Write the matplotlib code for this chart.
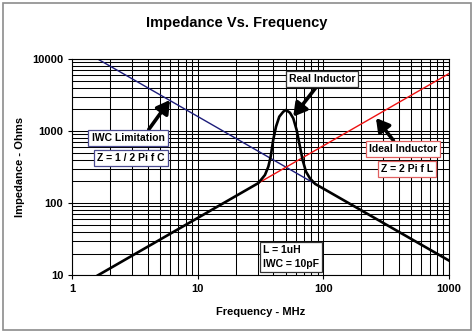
import matplotlib
matplotlib.use('Agg')
import matplotlib.pyplot as plt
from matplotlib.patches import Rectangle
from matplotlib.ticker import LogLocator, NullFormatter

plt.rcParams['font.family'] = ['Liberation Sans', 'DejaVu Sans']
plt.rcParams['font.weight'] = 'bold'

# values (frequency in MHz, impedance in ohms)
freq_real = [1.6, 30.3, 34.2, 36.4, 38.0, 39.8, 41.9, 44.5, 47.9, 50.3, 54.1,
             57.5, 61.2, 65.0, 68.3, 72.6, 78.1, 86.0, 1000]
z_real = [10, 190, 246, 321, 442, 753, 1151, 1585, 1858, 1962, 1799,
          1506, 1035, 608, 397, 274, 221, 185, 16]
freq_cap = [1.6, 86.0]
z_cap = [9950, 185]
freq_ind = [30.3, 1000]
z_ind = [190, 6280]

x_ticks = [1, 10, 100, 1000]
y_ticks = [10, 100, 1000, 10000]

W, H = 474, 333
fig = plt.figure(figsize=(W / 100, H / 100), dpi=100)
fig.patches.append(Rectangle((3 / W, 3 / H), 468 / W, 327 / H, transform=fig.transFigure,
                             fill=False, ec='#8c8c8c', lw=1.2))

ax = fig.add_axes([72.3 / W, 1 - 275.3 / H, 376.7 / W, 216.3 / H])
ax.set_xscale('log')
ax.set_yscale('log')
ax.set_xlim(1, 1000)
ax.set_ylim(10, 10000)
ax.set_axisbelow(True)

ax.plot(freq_cap, z_cap, color='#1c1c7a', lw=1.0)
ax.plot(freq_ind, z_ind, color='#ee1111', lw=1.0)
ax.plot(freq_real, z_real, color='black', lw=1.9)

ax.set_xticks(x_ticks)
ax.set_xticklabels([str(t) for t in x_ticks])
ax.set_yticks(y_ticks)
ax.set_yticklabels([str(t) for t in y_ticks])
ax.xaxis.set_minor_locator(LogLocator(base=10, subs=range(2, 10)))
ax.yaxis.set_minor_locator(LogLocator(base=10, subs=range(2, 10)))
ax.xaxis.set_minor_formatter(NullFormatter())
ax.yaxis.set_minor_formatter(NullFormatter())
ax.grid(True, which='both', color='black', lw=0.75)
ax.tick_params(labelsize=8, length=3, width=0.8, direction='out')
ax.tick_params(which='minor', length=0)
for lab in ax.get_xticklabels() + ax.get_yticklabels():
    lab.set_fontweight('bold')
for s in ax.spines.values():
    s.set_linewidth(0.8)

fig.text(237 / W, 1 - 23 / H, 'Impedance Vs. Frequency', ha='center', va='center',
         fontsize=10.5, fontweight='bold')
fig.text(261 / W, 1 - 312 / H, 'Frequency - MHz', ha='center', va='center',
         fontsize=8, fontweight='bold')
fig.text(20 / W, 1 - 167 / H, 'Impedance - Ohms', ha='center', va='center',
         fontsize=8, fontweight='bold', rotation=90)

arrow = dict(arrowstyle='-|>,head_length=0.55,head_width=0.32', color='black',
             lw=2.6, shrinkA=0, shrinkB=0, mutation_scale=14)


def box(ec):
    return dict(boxstyle='square,pad=0.3', fc='white', ec=ec, lw=0.9)


ax.annotate('Real Inductor', xy=(57.5, 1585), xytext=(322 / W, 1 - 79 / H),
            textcoords='figure fraction', ha='center', va='center', fontsize=7.5,
            fontweight='bold', bbox=box('#333333'),
            arrowprops=dict(arrow, relpos=(0.45, 0)))
ax.annotate('IWC Limitation', xy=(6.0, 2700), xytext=(128 / W, 1 - 138 / H),
            textcoords='figure fraction', ha='center', va='center', fontsize=7.5,
            fontweight='bold', bbox=box('#4a4a90'),
            arrowprops=dict(arrow, relpos=(0.75, 1)))
ax.annotate('Ideal Inductor', xy=(262, 1520), xytext=(403 / W, 1 - 149 / H),
            textcoords='figure fraction', ha='center', va='center', fontsize=7.5,
            fontweight='bold', bbox=box('#e06060'),
            arrowprops=dict(arrow, relpos=(0.4, 1)))

fig.text(131 / W, 1 - 158 / H, 'Z = 1 / 2 Pi f C', ha='center', va='center',
         fontsize=7.5, fontweight='bold', bbox=box('#4a4a90'))
fig.text(407 / W, 1 - 169 / H, 'Z = 2 Pi f L', ha='center', va='center',
         fontsize=7.5, fontweight='bold', bbox=box('#e06060'))
fig.text(263 / W, 1 - 257 / H, 'L = 1uH\nIWC = 10pF', ha='left', va='center',
         fontsize=7.5, fontweight='bold', linespacing=1.5, bbox=box('#333333'))

fig.savefig('out.png', dpi=100)
